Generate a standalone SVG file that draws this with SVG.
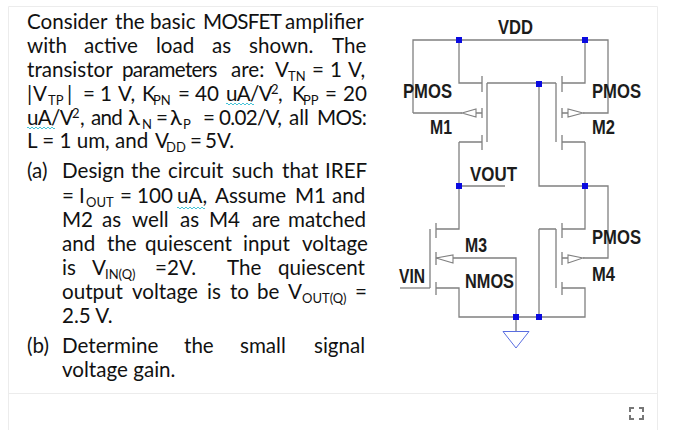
<svg xmlns="http://www.w3.org/2000/svg" width="694" height="430" viewBox="0 0 694 430">
<style>
.t{font-family:Lato,"Liberation Sans",sans-serif;font-size:20.6px;fill:#111}
.s{font-family:Lato,"Liberation Sans",sans-serif;font-size:13px;fill:#111}
.n{letter-spacing:-.7px}
.g{font-size:22px}
.l{font-family:"Liberation Sans",Arial,sans-serif;font-size:20px;font-weight:bold;fill:#1c1c1c}
.w{fill:none;stroke:#808080;stroke-width:1.3}
.a{fill:#fff;stroke:#808080;stroke-width:1.1}
.d{fill:#0a0ae0}
.q{fill:none;stroke:#45c4d8;stroke-width:1}
.f{fill:none;stroke:#ececec;stroke-width:1}
</style>
<rect width="694" height="430" fill="#fff"/>
<g id="frame">
<path class="f" d="M8.500 430V6.500H657.500V430M8.500 393.500H657.500"/>
<path d="M630 412V408H634M639 408H643V412M643 415V419H639M634 419H630V415" fill="none" stroke="#777" stroke-width="2"/>
</g>
<g id="problem-text">
<text class="t" y="29"><tspan x="27">Consider</tspan><tspan x="115">the</tspan><tspan x="150">basic</tspan><tspan x="203" class="n">MOSFET</tspan><tspan x="285">amplifier</tspan></text>
<text class="t" y="53"><tspan x="27">with</tspan><tspan x="84">active</tspan><tspan x="156">load</tspan><tspan x="212">as</tspan><tspan x="249">shown.</tspan><tspan x="332">The</tspan></text>
<text class="t" y="77"><tspan x="27">transistor</tspan><tspan x="122" class="n">parameters</tspan><tspan x="231">are:</tspan><tspan x="275">V</tspan><tspan x="312">=</tspan><tspan x="330">1</tspan><tspan x="348">V,</tspan></text>
<text class="s" x="288" y="81">TN</text>
<text class="t" y="101"><tspan x="27">|</tspan><tspan x="33">V</tspan><tspan x="67">|</tspan><tspan x="83">=</tspan><tspan x="100">1</tspan><tspan x="118">V,</tspan><tspan x="142">K</tspan><tspan x="178">=</tspan><tspan x="195">40</tspan><tspan x="226" class="n">uA/V</tspan><tspan x="278">,</tspan><tspan x="292">K</tspan><tspan x="325">=</tspan><tspan x="343">20</tspan></text>
<text class="s" x="48" y="105">TP</text><text class="s" x="153" y="105">PN</text><text class="s" x="271" y="94">2</text><text class="s" x="303" y="105">PP</text>
<text class="t" y="125"><tspan x="27" class="n">uA/V</tspan><tspan x="80">,</tspan><tspan x="91" class="n">and</tspan><tspan x="128" class="g">λ</tspan><tspan x="156">=</tspan><tspan x="170" class="g">λ</tspan><tspan x="203">=</tspan><tspan x="219" class="n">0.02/V,</tspan><tspan x="289">all</tspan><tspan x="317" class="n">MOS:</tspan></text>
<text class="s" x="142" y="129">N</text><text class="s" x="72" y="118">2</text><text class="s" x="183" y="129">P</text>
<text class="t" y="148"><tspan x="27">L = 1 um, and</tspan><tspan x="155">V</tspan><tspan x="190">=</tspan><tspan x="205">5V.</tspan></text>
<text class="s" x="166" y="152">DD</text>
<text class="t" y="178"><tspan x="27">(a)</tspan><tspan x="62">Design</tspan><tspan x="131">the</tspan><tspan x="168">circuit</tspan><tspan x="232">such</tspan><tspan x="282">that</tspan><tspan x="325">IREF</tspan></text>
<text class="t" y="203"><tspan x="62">=</tspan><tspan x="79">I</tspan><tspan x="120">=</tspan><tspan x="137">100</tspan><tspan x="177">uA,</tspan><tspan x="215">Assume</tspan><tspan x="295">M1</tspan><tspan x="332">and</tspan></text>
<text class="s" x="86" y="207">OUT</text>
<text class="t" y="227"><tspan x="62">M2</tspan><tspan x="102">as</tspan><tspan x="132">well</tspan><tspan x="180">as</tspan><tspan x="209">M4</tspan><tspan x="252">are</tspan><tspan x="288">matched</tspan></text>
<text class="t" y="251"><tspan x="62">and</tspan><tspan x="107">the</tspan><tspan x="145">quiescent</tspan><tspan x="243">input</tspan><tspan x="302">voltage</tspan></text>
<text class="t" y="275"><tspan x="62">is</tspan><tspan x="92">V</tspan><tspan x="155">=2V.</tspan><tspan x="227">The</tspan><tspan x="278">quiescent</tspan></text>
<text class="s" x="105" y="279">IN(Q)</text>
<text class="t" y="299"><tspan x="62">output</tspan><tspan x="132">voltage</tspan><tspan x="207">is</tspan><tspan x="230">to</tspan><tspan x="257">be</tspan><tspan x="288">V</tspan><tspan x="355">=</tspan></text>
<text class="s" x="302" y="303">OUT(Q)</text>
<text class="t" x="62" y="323">2.5 V.</text>
<text class="t" y="353"><tspan x="27">(b)</tspan><tspan x="62">Determine</tspan><tspan x="184">the</tspan><tspan x="240">small</tspan><tspan x="314">signal</tspan></text>
<text class="t" x="62" y="377">voltage gain.</text>
<path class="q" d="M226 104q1-2 2 0t2 0 2 0 2 0 2 0 2 0 2 0 2 0 2 0 2 0 2 0 2 0 2 0 2 0"/>
<path class="q" d="M27 128q1-2 2 0t2 0 2 0 2 0 2 0 2 0 2 0 2 0 2 0 2 0 2 0 2 0 2 0 2 0"/>
<path class="q" d="M177 208q1-2 2 0t2 0 2 0 2 0 2 0 2 0 2 0 2 0 2 0 2 0 2 0 2 0 2 0 2 0"/>
</g>
<g id="connectors">
<path class="w" d="M413 113V40H608V113H583M413 113H462M476 113H482"/>
<path class="w" d="M459 40V83H482M585 40V83H562M568 113H562"/>
<path class="w" d="M459 142H482M459 142V229H436M459 186H505"/>
<path class="w" d="M585 142H562M585 142V229H562M539 84V186H608V258H583M568 258H562"/>
<path class="w" d="M539 229H556M539 229V317M436 288H459V317H585V288H562"/>
<path class="w" d="M436 258H453M453 258H516V331"/>
<path class="w" d="M400 288H430"/>
<path class="w" d="M487 83H556"/>
</g>
<g id="M1"><path class="w" d="M482 76V92M482 108V118M482 135V150M487 83V142"/><path class="a" d="M462 113L476 109V117Z"/></g>
<g id="M2"><path class="w" d="M562 76V92M562 108V118M562 135V150M556 83V142"/><path class="a" d="M583 113L568 109V117Z"/></g>
<g id="M3"><path class="w" d="M436 223V238M436 252V265M436 282V295M430 229V288"/><path class="a" d="M436 258L453 255V263Z"/></g>
<g id="M4"><path class="w" d="M562 223V238M562 252V265M562 282V295M556 229V288"/><path class="a" d="M583 258L568 255V263Z"/></g>
<g id="ground"><path d="M503 331.500H529L516 348Z" fill="#fff" stroke="#5a6ee0" stroke-width="1"/></g>
<g id="junctions">
<rect class="d" x="456" y="37" width="6" height="6"/><rect class="d" x="582" y="37" width="6" height="6"/>
<rect class="d" x="536" y="81" width="6" height="6"/><rect class="d" x="456" y="183" width="6" height="6"/>
<rect class="d" x="582" y="183" width="6" height="6"/><rect class="d" x="513" y="314" width="6" height="6"/>
<rect class="d" x="536" y="314" width="6" height="6"/>
</g>
<g id="labels">
<text class="l" x="498" y="34" textLength="35" lengthAdjust="spacingAndGlyphs">VDD</text>
<text class="l" x="403" y="98" textLength="49" lengthAdjust="spacingAndGlyphs">PMOS</text>
<text class="l" x="430" y="134" textLength="22" lengthAdjust="spacingAndGlyphs">M1</text>
<text class="l" x="592" y="98" textLength="49" lengthAdjust="spacingAndGlyphs">PMOS</text>
<text class="l" x="592" y="134" textLength="23" lengthAdjust="spacingAndGlyphs">M2</text>
<text class="l" x="470" y="181" textLength="47" lengthAdjust="spacingAndGlyphs">VOUT</text>
<text class="l" x="592" y="244" textLength="49" lengthAdjust="spacingAndGlyphs">PMOS</text>
<text class="l" x="592" y="281" textLength="23" lengthAdjust="spacingAndGlyphs">M4</text>
<text class="l" x="465" y="252" textLength="22" lengthAdjust="spacingAndGlyphs">M3</text>
<text class="l" x="465" y="288" textLength="49" lengthAdjust="spacingAndGlyphs">NMOS</text>
<text class="l" x="399" y="283" textLength="26" lengthAdjust="spacingAndGlyphs">VIN</text>
</g>
</svg>
